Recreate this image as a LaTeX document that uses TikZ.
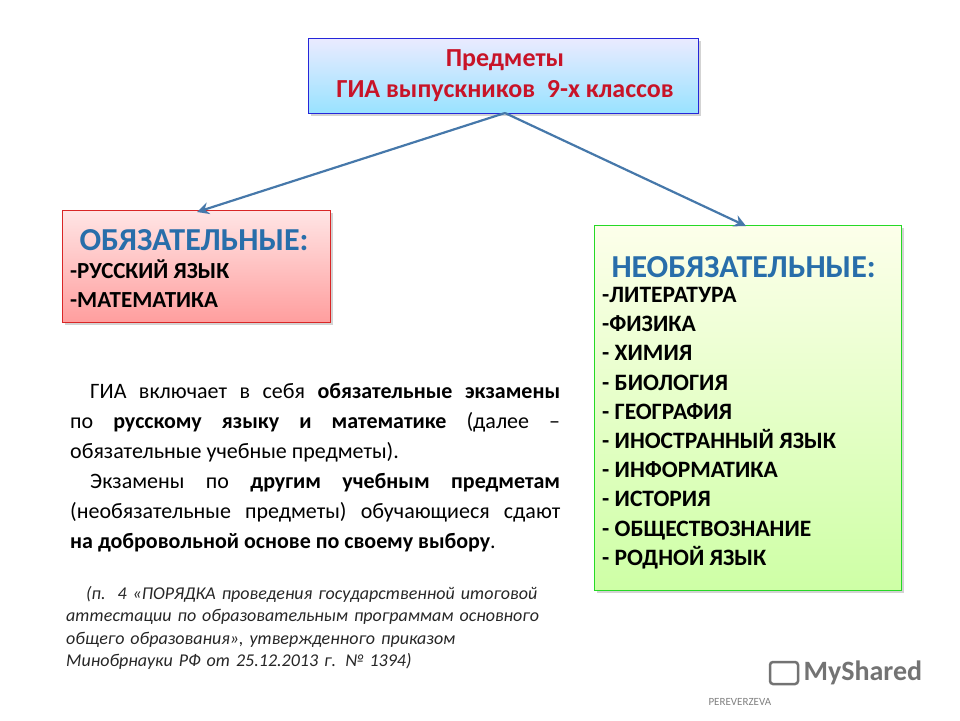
\documentclass[tikz,border=0pt]{standalone}
\usepackage{fontspec}
\setmainfont{Carlito}
\usetikzlibrary{shadows}
\definecolor{titred}{RGB}{200,20,40}
\definecolor{hblue}{RGB}{40,110,170}
\definecolor{arr}{RGB}{70,120,170}
\tikzset{
 box/.style={draw=#1!70!gray, line width=0.6pt, drop shadow={opacity=0.35,shadow xshift=3pt,shadow yshift=-3pt}},
 con/.style={arr, line width=2.2pt, -{Stealth[length=12pt,width=12pt,inset=4pt]}},
}
\usetikzlibrary{arrows.meta}
\begin{document}
\begin{tikzpicture}[x=1pt,y=-1pt]
\useasboundingbox (0,0) rectangle (960,720);
\shade[box=blue,top color=blue!8, bottom color=blue!28!cyan!40, shading angle=0] (308,38) rectangle (698,113);
\node (top) at (505,76) [align=center, text=titred, font=\fontsize{26}{31}\bfseries\selectfont] {Предметы\\ ГИА выпускников\ \ 9-х классов};
\shade[box=red,top color=red!10, bottom color=red!38] (62,210) rectangle (330,322);
\node (obl) at (196,266) {};
\node[anchor=west, text=hblue, font=\fontsize{32}{34}\bfseries\selectfont] at (76,240) {ОБЯЗАТЕЛЬНЫЕ:};
\node[anchor=north west, align=left, inner sep=0, font=\fontsize{23}{29}\bfseries\selectfont] at (70,259) {-РУССКИЙ ЯЗЫК\\-МАТЕМАТИКА};
\shade[box=green,top color=green!10!yellow!8, bottom color=green!40!lime!35] (594,225) rectangle (901,590);
\node (neo) at (747,407) {};
\node[anchor=west, text=hblue, font=\fontsize{32}{34}\bfseries\selectfont] at (608,267) {НЕОБЯЗАТЕЛЬНЫЕ:};
\node[anchor=north west, align=left, inner sep=0, font=\fontsize{23.5}{29.2}\bfseries\selectfont] at (602,287) {-ЛИТЕРАТУРА\\-ФИЗИКА\\- ХИМИЯ\\- БИОЛОГИЯ\\- ГЕОГРАФИЯ\\- ИНОСТРАННЫЙ ЯЗЫК\\- ИНФОРМАТИКА\\- ИСТОРИЯ\\- ОБЩЕСТВОЗНАНИЕ\\- РОДНОЙ ЯЗЫК};
\coordinate (src) at (505,113);
\coordinate (lt) at (197,212);
\coordinate (rt) at (746,226);
\draw[con] (src) -- (lt);
\draw[con] (src) -- (rt);
\node (para) [anchor=north west, inner sep=0, text width=490pt, font=\fontsize{22}{30}\selectfont, align=justify] at (70,383)
{\parindent=20pt\indent ГИА включает в себя \textbf{обязательные экзамены} по \textbf{русскому языку и математике} (далее – обязательные учебные предметы).\par
\indent Экзамены по \textbf{другим учебным предметам} (необязательные предметы) обучающиеся сдают \textbf{на добровольной основе по своему выбору}.};
\node (cit) [anchor=north west, inner sep=0, text width=485pt, font=\fontsize{18}{22.5}\itshape\selectfont, align=left, text=black!85] at (66,586)
{\hspace*{20pt}(п.\ \ 4 «ПОРЯДКА проведения государственной итоговой аттестации по образовательным программам основного общего образования», утвержденного приказом Минобрнауки РФ от 25.12.2013 г. № 1394)};
\node (logo) [anchor=west, text=black!55, font=\fontsize{28}{28}\bfseries\selectfont] at (800,673) {MyShared};
\draw[black!55, line width=2.5pt, rounded corners=3pt] (770,662) rectangle (798,684);
\node (pv) [anchor=west, text=black!50, font=\fontsize{11}{11}\selectfont] at (705,702) {PEREVERZEVA};
\end{tikzpicture}
\end{document}
